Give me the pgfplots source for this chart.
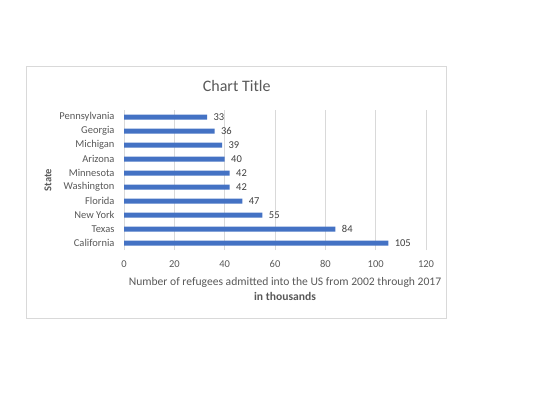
\documentclass[border=0pt]{standalone}
\usepackage{fontspec}
\setmainfont{Carlito}
\usepackage{pgfplots}
\pgfplotsset{compat=1.18}

\definecolor{barblue}{HTML}{4472C4}
\definecolor{gridgray}{HTML}{D9D9D9}
\definecolor{txtgray}{HTML}{595959}
\definecolor{lblgray}{HTML}{404040}

\pgfplotstableread{
pos state      refugees
0   California   105
1   Texas        84
2   {New York}   55
3   Florida      47
4   Washington   42
5   Minnesota    42
6   Arizona      40
7   Michigan     39
8   Georgia      36
9   Pennsylvania 33
}\refugeedata

\begin{document}
\begin{tikzpicture}[x=1bp,y=1bp]
% page size of the reference
\path (0,0) rectangle (552,409);
% chart frame
\draw[gridgray, line width=0.75bp, fill=white] (26.7,91) rectangle (446.7,343);

\begin{axis}[
  at={(124bp,159bp)}, anchor=south west,
  scale only axis,
  width=302bp, height=140bp,
  xbar,
  bar width=5bp,
  xmin=0, xmax=120,
  ymin=-0.5, ymax=9.5,
  xtick={0,20,...,120},
  ytick={0,...,9},
  yticklabels from table={\refugeedata}{state},
  axis line style={draw=none},
  major tick length=0pt,
  xmajorgrids,
  grid style={gridgray, line width=0.75bp},
  tick label style={font=\fontsize{10.5bp}{12bp}\selectfont, text=txtgray},
  /pgf/number format/assume math mode=true,
  xticklabel style={yshift=-7bp},
  yticklabel style={xshift=-6bp},
  nodes near coords,
  every node near coord/.append style={font=\fontsize{10.5bp}{12bp}\selectfont,
    text=lblgray, anchor=west, xshift=3bp},
  clip=false,
]
\addplot[fill=barblue, draw=none] table[x=refugees, y=pos] {\refugeedata};
\end{axis}

% title
\node[text=txtgray, font=\fontsize{16bp}{19bp}\selectfont] at (236.7,323) {Chart Title};
% axis titles
\node[text=txtgray, font=\fontsize{11.6bp}{14.5bp}\selectfont, align=center] at (285,120)
  {Number of refugees admitted into the US from 2002 through 2017\\ \textbf{in thousands}};
\node[text=txtgray, font=\fontsize{10.5bp}{12bp}\selectfont\bfseries, rotate=90] at (48,229) {State};
\end{tikzpicture}
\end{document}
